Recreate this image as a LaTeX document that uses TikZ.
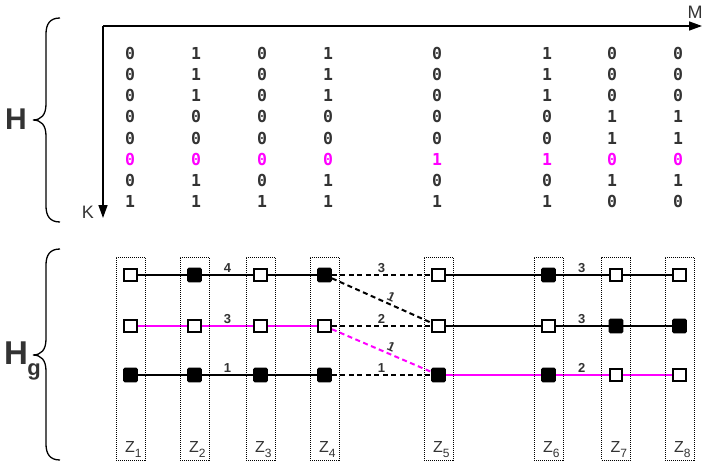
\documentclass[tikz,border=0pt]{standalone}
\usepackage{fontspec}
\setmainfont{Liberation Sans}
\newfontfamily\monofnt{DejaVu Sans Mono}
\usetikzlibrary{arrows.meta,backgrounds}
\definecolor{txt}{HTML}{333333}
\definecolor{mag}{HTML}{FF00FF}
\begin{document}
\begin{tikzpicture}[x=1pt,y=-1pt,
  num/.style={font=\monofnt\bfseries\fontsize{16.5}{16.5}\selectfont, inner sep=0},
  axis/.style={line width=1.5pt, -{Triangle[length=13pt,width=9pt]}},
  axlab/.style={font=\fontsize{18}{18}\selectfont, text=txt, inner sep=0},
  brace/.style={line width=1.3pt, black},
  sqo/.style={draw=black, fill=white, line width=2.4pt, minimum size=12.5pt, inner sep=0},
  sqf/.style={draw=black, fill=black, line width=2.4pt, minimum size=12.5pt, inner sep=0, rounded corners=1pt},
  zbox/.style={draw=black, line width=0.9pt, dash pattern=on 1pt off 1pt, minimum width=29pt, minimum height=203pt, inner sep=0},
  zlab/.style={font=\fontsize{16}{16}\selectfont, text=txt, inner sep=0},
  lbl/.style={font=\bfseries\fontsize{13}{13}\selectfont, text=txt, inner sep=0, above=1.5pt},
  solidln/.style={line width=2pt, black},
  magln/.style={line width=2pt, mag},
  dashln/.style={line width=2pt, dash pattern=on 5pt off 3.5pt}
]
\useasboundingbox (0,0) rectangle (714,473);

% ---------- H part ----------
\coordinate (org) at (103,26);
\coordinate (mend) at (702,26);
\coordinate (kend) at (103,218);
\draw[axis] (org) -- (mend);
\draw[axis] (org) -- (kend);
\node[axlab] (Mlab) at (695,12) {M};
\node[axlab] (Klab) at (88,212.5) {K};

\draw[brace] (60,18) .. controls (50,18) and (46,24) .. (46,34) -- (46,104)
  .. controls (46,115) and (41,120) .. (33,120)
  .. controls (41,120) and (46,125) .. (46,136) -- (46,206)
  .. controls (46,216) and (50,222) .. (60,222);
\node[font=\bfseries\fontsize{30}{30}\selectfont, text=txt, inner sep=0] (Hlab) at (16,119) {H};

\foreach \r/\clr/\vals in {
  1/txt/{0,1,0,1,0,1,0,0},
  2/txt/{0,1,0,1,0,1,0,0},
  3/txt/{0,1,0,1,0,1,0,0},
  4/txt/{0,0,0,0,0,0,1,1},
  5/txt/{0,0,0,0,0,0,1,1},
  6/mag/{0,0,0,0,1,1,0,0},
  7/txt/{0,1,0,1,0,0,1,1},
  8/txt/{1,1,1,1,1,1,0,0}}{
  \foreach \v [count=\c] in \vals {
    \pgfmathsetmacro\xx{{130,196,262,328,437,547,612,678}[\c-1]}
    \pgfmathsetmacro\yy{53.3+(\r-1)*21.2}
    \node[num, text=\clr] (m\r-\c) at (\xx,\yy) {\v};
  }
}

% ---------- Hg part ----------
\draw[brace] (60,249) .. controls (50,249) and (46,255) .. (46,265) -- (46,339)
  .. controls (46,350) and (41,355) .. (33,355)
  .. controls (41,355) and (46,360) .. (46,371) -- (46,444)
  .. controls (46,454) and (50,460) .. (60,460);
\node[font=\bfseries\fontsize{33}{33}\selectfont, text=txt, inner sep=0] (Hglab) at (16,353) {H};
\node[font=\bfseries\fontsize{22}{22}\selectfont, text=txt, inner sep=0] (glab) at (34,372) {g};

\foreach \k/\xx/\a/\b/\c in {1/130.5/o/o/f, 2/194.5/f/o/f, 3/260.5/o/o/f, 4/324.5/f/o/f,
    5/438.5/o/o/f, 6/548.5/f/o/f, 7/616/o/f/o, 8/679.5/o/f/o}{
  \node[zbox] (zb\k) at (\xx,358.5) {};
  \node[zlab, anchor=base west] (zl\k) at (\xx-5.5,452) {Z\raisebox{-5pt}{\fontsize{12}{12}\selectfont\k}};
  \node[sq\a] (s\k-1) at (\xx,275) {};
  \node[sq\b] (s\k-2) at (\xx,326) {};
  \node[sq\c] (s\k-3) at (\xx,375) {};
}

\begin{pgfonlayer}{background}
\draw[solidln] (s1-1) -- node[lbl]{4} (s4-1);
\draw[magln] (s1-2) -- node[lbl]{3} (s4-2);
\draw[solidln] (s1-3) -- node[lbl]{1} (s4-3);
\draw[dashln] (s4-1) -- node[lbl]{3} (s5-1);
\draw[dashln] (s4-1) -- node[lbl, sloped, pos=0.57]{1} (s5-2);
\draw[dashln] (s4-2) -- node[lbl]{2} (s5-2);
\draw[dashln, mag] (s4-2) -- node[lbl, sloped, pos=0.57]{1} (s5-3);
\draw[dashln] (s4-3) -- node[lbl]{1} (s5-3);
\draw[solidln] (s5-1) -- node[lbl, pos=0.6]{3} (s8-1);
\draw[solidln] (s5-2) -- node[lbl, pos=0.6]{3} (s8-2);
\draw[magln] (s5-3) -- node[lbl, pos=0.6]{2} (s8-3);
\end{pgfonlayer}
\end{tikzpicture}
\end{document}
